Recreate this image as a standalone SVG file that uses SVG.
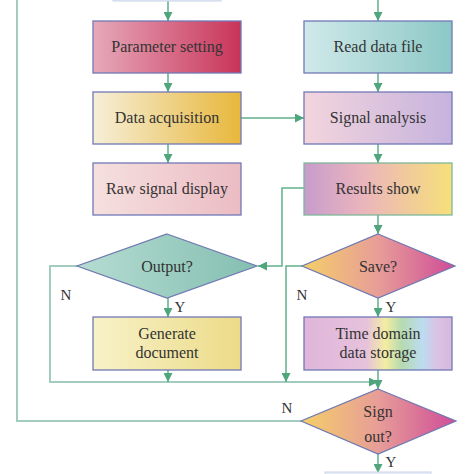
<svg xmlns="http://www.w3.org/2000/svg" width="474" height="474" viewBox="0 0 474 474">
<style>
.box{stroke:#7079b5;stroke-width:1.3}
.dia{stroke:#6e78b0;stroke-width:1.2}
.t{font-family:"Liberation Serif","DejaVu Serif",serif;font-size:16px;fill:#333;text-anchor:middle}
.l{font-family:"Liberation Serif","DejaVu Serif",serif;font-size:15px;fill:#333;text-anchor:middle}
.c{fill:none;stroke:#5fb08a;stroke-width:1.5}
.cl{fill:none;stroke:#a3cbbf;stroke-width:2}
</style>
<defs>
<marker id="ah" viewBox="0 0 10 10" refX="10" refY="5" markerWidth="9" markerHeight="9" markerUnits="userSpaceOnUse" orient="auto"><path d="M0,0 L10,5 L0,10 z" fill="#4fa67c"/></marker>
<linearGradient id="gParam"><stop offset="0" stop-color="#e6a9ba"/><stop offset="1" stop-color="#c93459"/></linearGradient>
<linearGradient id="gData"><stop offset="0" stop-color="#f6efd8"/><stop offset="1" stop-color="#e8b73c"/></linearGradient>
<linearGradient id="gRaw"><stop offset="0" stop-color="#f6e0df"/><stop offset="1" stop-color="#ebbcc3"/></linearGradient>
<linearGradient id="gRead"><stop offset="0" stop-color="#d0e9ea"/><stop offset="1" stop-color="#8cc8c6"/></linearGradient>
<linearGradient id="gSig"><stop offset="0" stop-color="#f3d5dd"/><stop offset="1" stop-color="#c6b3de"/></linearGradient>
<linearGradient id="gRes"><stop offset="0" stop-color="#c79ccc"/><stop offset="0.4" stop-color="#ebb5bd"/><stop offset="1" stop-color="#f6e07a"/></linearGradient>
<linearGradient id="gOut"><stop offset="0" stop-color="#b6dcd2"/><stop offset="1" stop-color="#84bfb1"/></linearGradient>
<linearGradient id="gGen"><stop offset="0" stop-color="#f7f2c8"/><stop offset="1" stop-color="#ecdb88"/></linearGradient>
<linearGradient id="gSave"><stop offset="0" stop-color="#f5cf68"/><stop offset="0.5" stop-color="#e79d98"/><stop offset="1" stop-color="#cf4c98"/></linearGradient>
<linearGradient id="gTime"><stop offset="0" stop-color="#dfb6da"/><stop offset="0.42" stop-color="#e6c2dc"/><stop offset="0.55" stop-color="#f3eda2"/><stop offset="0.66" stop-color="#b6dab0"/><stop offset="0.8" stop-color="#bcdcf0"/><stop offset="0.9" stop-color="#dcc2e4"/><stop offset="1" stop-color="#d6b8dc"/></linearGradient>
</defs>
<rect width="474" height="474" fill="#ffffff"/>
<g id="connectors">
<path class="cl" d="M301,421 H17 V0"/>
<path class="cl" d="M78,266 H50 V382 H378" marker-end="url(#ah)"/>
<path class="c" d="M168,0 V21" marker-end="url(#ah)"/>
<path class="c" d="M378,0 V21" marker-end="url(#ah)"/>
<path class="c" d="M168,73 V92" marker-end="url(#ah)"/>
<path class="c" d="M168,144 V163" marker-end="url(#ah)"/>
<path class="c" d="M378,73 V92" marker-end="url(#ah)"/>
<path class="c" d="M378,144 V163" marker-end="url(#ah)"/>
<path class="c" d="M241,118 H304" marker-end="url(#ah)"/>
<path class="c" d="M304,188 H282 V266 H258" marker-end="url(#ah)"/>
<path class="c" d="M378,215 V234" marker-end="url(#ah)"/>
<path class="c" d="M168,298 V317" marker-end="url(#ah)"/>
<path class="c" d="M378,298 V317" marker-end="url(#ah)"/>
<path class="c" d="M168,370 V382" marker-end="url(#ah)"/>
<path class="c" d="M302,266 H286 V382" marker-end="url(#ah)"/>
<path class="c" d="M378,370 V389" marker-end="url(#ah)"/>
<path class="c" d="M378,454 V473" marker-end="url(#ah)"/>
</g>
<g id="top-left"><rect x="113" y="-10" width="108" height="11" fill="#e6edf8" stroke="#c9d3ea" stroke-width="1"/></g>
<g id="bottom-box"><rect x="325" y="472" width="106" height="12" fill="#e6edf8" stroke="#c9d3ea" stroke-width="1"/></g>
<g id="param"><rect class="box" x="93" y="21" width="148" height="52" fill="url(#gParam)"/><text class="t" x="167" y="52">Parameter setting</text></g>
<g id="data"><rect class="box" x="93" y="92" width="148" height="52" fill="url(#gData)"/><text class="t" x="167" y="123">Data acquisition</text></g>
<g id="raw"><rect class="box" x="93" y="163" width="148" height="52" fill="url(#gRaw)"/><text class="t" x="167" y="194">Raw signal display</text></g>
<g id="read"><rect class="box" x="304" y="21" width="148" height="52" fill="url(#gRead)"/><text class="t" x="378" y="52">Read data file</text></g>
<g id="sig"><rect class="box" x="304" y="92" width="148" height="52" fill="url(#gSig)"/><text class="t" x="378" y="123">Signal analysis</text></g>
<g id="res"><rect x="304" y="163" width="148" height="52" fill="url(#gRes)" stroke="#7fb79a" stroke-width="1.3"/><text class="t" x="378" y="194">Results show</text></g>
<g id="output"><polygon class="dia" points="167,234 257,266 167,298 77,266" fill="url(#gOut)"/><text class="t" x="167" y="272">Output?</text></g>
<g id="save"><polygon class="dia" points="378,234 455,266 378,298 302,266" fill="url(#gSave)"/><text class="t" x="378" y="272">Save?</text></g>
<g id="gen"><rect class="box" x="93" y="317" width="148" height="53" fill="url(#gGen)"/><text class="t" x="167" y="339">Generate</text><text class="t" x="167" y="358">document</text></g>
<g id="time"><rect class="box" x="304" y="317" width="148" height="53" fill="url(#gTime)"/><text class="t" x="378" y="339">Time domain</text><text class="t" x="378" y="358">data storage</text></g>
<g id="signout"><polygon class="dia" points="378,389 456,421 378,454 301,421" fill="url(#gSave)"/><text class="t" x="378" y="417">Sign</text><text class="t" x="378" y="442">out?</text></g>
<g id="labels">
<text class="l" x="66" y="300">N</text>
<text class="l" x="180" y="312">Y</text>
<text class="l" x="302" y="300">N</text>
<text class="l" x="391" y="312">Y</text>
<text class="l" x="287" y="413">N</text>
<text class="l" x="391" y="467">Y</text>
</g>
</svg>
